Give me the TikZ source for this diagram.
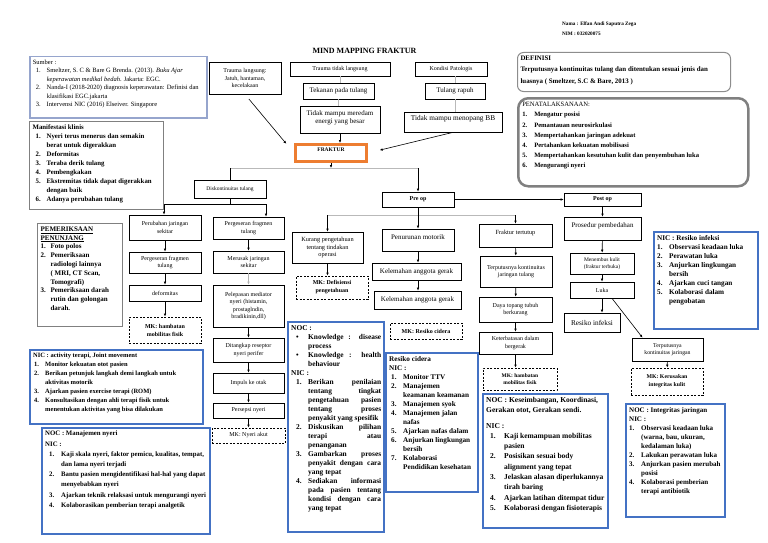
\documentclass[tikz,border=0pt]{standalone}
\usepackage{fontspec}
\setmainfont{Liberation Serif}
\usetikzlibrary{arrows.meta,calc}
\definecolor{nicblue}{RGB}{68,114,196}
\definecolor{frorange}{RGB}{237,125,49}
\definecolor{srcblue}{RGB}{150,165,205}
\definecolor{boxgray}{RGB}{128,128,128}
\hyphenpenalty=10000
\exhyphenpenalty=10000
\newlength\nw \newlength\nin
\newcommand\nitem[2]{\par\noindent\hangindent=\nw\hangafter=1\makebox[\nw][l]{\hspace{\nin}#1}#2}
\tikzset{
  bx/.style={draw, line width=0.7pt, align=center, inner sep=1pt, font=\fontsize{6}{7.5}\selectfont},
  bxl/.style={bx, font=\fontsize{7}{8.5}\selectfont},
  mk/.style={draw, dash pattern=on 2pt off 1.5pt, line width=0.8pt, align=center, inner sep=1pt, font=\bfseries\fontsize{6}{8}\selectfont},
  blb/.style={draw=nicblue, line width=2.4pt, anchor=north west, inner sep=3pt, font=\bfseries\fontsize{6.5}{9}\selectfont},
  gyb/.style={draw=boxgray, line width=1.2pt, anchor=north west, inner sep=3pt},
  arr/.style={-{Latex[length=3pt,width=2.6pt]}, line width=0.6pt},
  ln/.style={line width=0.6pt},
  gl/.style={draw=gray!55, line width=0.9pt},
}
\begin{document}
\begin{tikzpicture}[x=1pt,y=-1pt]
\useasboundingbox (0,0) rectangle (768,543);
% header
\node[anchor=north west, align=left, inner sep=0pt, font=\bfseries\fontsize{5.2}{10}\selectfont] (nama) at (562,22) {Nama : Elfan Andi Saputra Zega\\NIM : 032020075};
\node[font=\bfseries\fontsize{8}{10}\selectfont, inner sep=0pt] (title) at (364.5,51) {MIND MAPPING FRAKTUR};
% Sumber
\node[draw=srcblue, line width=1.5pt, anchor=north west, inner sep=3pt, font=\fontsize{6.5}{8.5}\selectfont] (sumber) at (29,56)
 {\parbox[c][55pt][t]{171pt}{\raggedright\setlength\nw{14pt}\setlength\nin{3pt}%
 \noindent Sumber :
 \nitem{1.}{Smeltzer, S. C \& Bare G Brenda. (2013). \textit{Buku Ajar keperawatan medikal bedah}. Jakarta: EGC.}
 \nitem{2.}{Nanda-I (2018-2020) diagnosis keperawatan: Definisi dan klasifikasi EGC.jakarta}
 \nitem{3.}{Intervensi NIC (2016) Elseiver. Singapore}}};
% Manifestasi
\node[gyb, font=\bfseries\fontsize{6.8}{9}\selectfont] (manif) at (29,121)
 {\parbox[c][82pt][t]{128pt}{\raggedright\setlength\nw{14pt}\setlength\nin{3pt}%
 \noindent Manifestasi klinis
 \nitem{1.}{Nyeri terus menerus dan semakin berat untuk digerakkan}
 \nitem{2.}{Deformitas}
 \nitem{3.}{Teraba derik tulang}
 \nitem{4.}{Pembengkakan}
 \nitem{5.}{Ekstremitas tidak dapat digerakkan dengan baik}
 \nitem{6.}{Adanya perubahan tulang}}};
% Pemeriksaan
\node[gyb, font=\bfseries\fontsize{7}{8.8}\selectfont] (pem) at (37,223)
 {\parbox[c][97pt][t]{79pt}{\raggedright\setlength\nw{10pt}\setlength\nin{0pt}%
 \noindent\underline{PEMERIKSAAN}\\\underline{PENUNJANG}
 \nitem{1.}{Foto polos}
 \nitem{2.}{Pemeriksaan\newline radiologi lainnya\newline(~MRI, CT Scan,\newline Tomografi)}
 \nitem{3.}{Pemeriksaan darah\newline rutin dan golongan\newline darah.}}};
% DEFINISI
\node[draw=boxgray!90, line width=1pt, rounded corners=6pt, anchor=north west, inner sep=3pt, font=\bfseries\fontsize{6.9}{11.5}\selectfont] (defin) at (517,52)
 {\parbox[c][33pt][t]{207pt}{\raggedright DEFINISI\\Terputusnya kontinuitas tulang dan ditentukan sesuai jenis dan luasnya ( Smeltzer, S.C \& Bare, 2013 )}};
% PENATALAKSANAAN
\node[draw=boxgray, line width=2.5pt, rounded corners=10pt, anchor=north west, inner sep=4pt, font=\bfseries\fontsize{6.6}{10.2}\selectfont] (penata) at (517,97)
 {\parbox[c][80pt][t]{222pt}{\raggedright\setlength\nw{12pt}\setlength\nin{0pt}%
 \noindent{\mdseries PENATALAKSANAAN:}
 \nitem{1.}{Mengatur posisi}
 \nitem{2.}{Pemantauan neurosirkulasi}
 \nitem{3.}{Mempertahankan jaringan adekuat}
 \nitem{4.}{Pertahankan kekuatan mobilisasi}
 \nitem{5.}{Mempertahankan kesutuhan kulit dan penyembuhan luka}
 \nitem{6.}{Mengurangi nyeri}}};
% top flow
\node[bx, minimum width=72, minimum height=32] (tl) at (245,78) {Trauma langsung:\\Jatuh, hantaman,\\kecelakaan};
\node[bx, minimum width=100, minimum height=14] (tdl) at (340,69) {Trauma tidak langsung};
\node[bxl, minimum width=71, minimum height=16] (tek) at (338.5,91) {Tekanan pada tulang};
\node[bxl, minimum width=80, minimum height=27, text depth=5pt] (tmr) at (340,119.5) {Tidak mampu meredam\\energi yang besar};
\node[bx, minimum width=72, minimum height=14] (kp) at (451,69) {Kondisi Patologis};
\node[bxl, minimum width=60, minimum height=16] (tr) at (455,91) {Tulang rapuh};
\node[bxl, minimum width=98, minimum height=20, font=\fontsize{7.3}{8.5}\selectfont, text depth=8pt] (tmb) at (453,122) {Tidak mampu menopang BB};
\node[draw=frorange, line width=3pt, minimum width=71, minimum height=17, inner sep=1pt, font=\bfseries\fontsize{5.5}{7}\selectfont, text depth=6pt] (frak) at (331,153) {FRAKTUR};
\draw[gl] (tdl.south) -- (tdl.south |- tek.north);
\draw[gl] (tek.south) -- (tek.south |- tmr.north);
\draw[arr] (tmr.south) -- (tmr.south |- frak.north);
\draw[gl] (tr.north |- kp.south) -- (tr.north);
\draw[gl] (tr.south) -- (tr.south |- tmb.north);
\draw[arr, shorten <=6pt, shorten >=12pt] (tl.south) -- (frak.west);
\draw[arr, shorten >=12pt] (tmb.south) -- (frak.east);
% split
\coordinate (j1) at (230,168);
\coordinate (j2) at (418,168);
\node[bx, minimum width=72, minimum height=18, font=\fontsize{5.5}{7}\selectfont] (disk) at (230,189) {Diskontinuitas tulang};
\node[bx, minimum width=72, minimum height=15, font=\bfseries\fontsize{6}{7}\selectfont] (preop) at (418,199.5) {Pre op};
\draw[arr] (frak.south) -- (frak.south |- j1);
\draw[gl] (j1) -- (j2);
\draw[ln] (j1) -- (disk.north);
\draw[arr] (j2) -- (preop.north);
% left columns
\coordinate (j3) at (164,204);
\coordinate (j4) at (266,204);
\node[bx, minimum width=72, minimum height=25] (pjs) at (165,227.5) {Perubahan jaringan\\sekitar};
\node[bx, minimum width=72, minimum height=21] (pfg1) at (165,262.5) {Pergeseran fragmen\\tulang};
\node[bx, minimum width=72, minimum height=16] (def) at (165,293) {deformitas};
\node[mk, minimum width=72, minimum height=26] (mk1) at (165,330) {MK: hambatan\\mobilitas fisik};
\draw[ln] (disk.south) -- (disk.south |- j3);
\draw[ln] (j3) -- (j4);
\draw[arr] (j3) -- (j3 |- pjs.north);
\draw[arr] (pjs) -- (pfg1);
\draw[arr] (pfg1) -- (def);
\draw[arr] (def) -- (mk1);
\node[bx, minimum width=71, minimum height=22] (pfg2) at (248.5,228) {Pergeseran fragmen\\tulang};
\node[bx, minimum width=71, minimum height=22] (mrj) at (248.5,262) {Merusak jaringan\\sekitar};
\node[bx, minimum width=71, minimum height=42] (pel) at (248.5,306) {Pelepasan mediator\\nyeri (histamin,\\prostaglndin,\\bradikinin,dll)};
\node[bx, minimum width=71, minimum height=24] (dit) at (248.5,350) {Ditangkap reseptor\\nyeri perifer};
\node[bx, minimum width=71, minimum height=20] (imp) at (248.5,383) {Impuls ke otak};
\node[bx, minimum width=71, minimum height=15] (per) at (248.5,410.5) {Persepsi nyeri};
\node[mk, minimum width=73, minimum height=15, font=\fontsize{6}{7}\selectfont] (mk2) at (248.5,435.5) {MK: Nyeri akut};
\draw[arr] (j4) -- (j4 |- pfg2.north);
\draw[arr] (pfg2) -- (mrj);
\draw[arr, draw=gray!60] (mrj) -- (pel);
\draw[arr] (pel) -- (dit);
\draw[arr] (dit) -- (imp);
\draw[arr] (imp) -- (per);
\draw[arr] (per) -- (mk2);
% pre op branches
\coordinate (j5) at (327.5,215);
\coordinate (j6) at (515.5,215);
\node[bx, minimum width=71, minimum height=31, font=\fontsize{6.3}{7.8}\selectfont] (kur) at (327.5,247.5) {Kurang pengetahuan\\tentang tindakan\\operasi};
\node[mk, minimum width=72, minimum height=23] (mkdef) at (332,287.5) {MK: Defisiensi\\pengetahuan};
\node[bxl, minimum width=72, minimum height=22, text depth=6pt] (pm) at (418,240) {Penurunan motorik};
\node[bxl, minimum width=89, minimum height=17] (kel1) at (416.5,271.5) {Kelemahan anggota gerak};
\node[bxl, minimum width=87, minimum height=18] (kel2) at (417.5,300) {Kelemahan anggota gerak};
\node[mk, minimum width=72, minimum height=16] (mkrc) at (426,331) {MK: Resiko cidera};
\draw[ln] (preop.south) -- (preop.south |- j5);
\draw[gl] (j5) -- (j6);
\draw[arr] (j5) -- (kur.north);
\draw[arr] (preop.south |- j5) -- (pm.north);
\draw[arr] (kur) -- (mkdef.north -| kur.south);
\draw[arr] (pm) -- (pm.south |- kel1.north);
\draw[arr] (kel1.south -| pm.south) -- (pm.south |- kel2.north);
\node[bx, minimum width=73, minimum height=23, font=\fontsize{6.3}{7.5}\selectfont, text depth=6pt] (ft) at (515.5,235.5) {Fraktur tertutup};
\node[bx, minimum width=72, minimum height=31] (tkj) at (516,271.5) {Terputusnya kontinuitas\\jaringan tulang};
\node[bx, minimum width=73, minimum height=25] (dtt) at (515.5,309.5) {Daya topang tubuh\\berkurang};
\node[bx, minimum width=73, minimum height=22] (keb) at (515.5,343) {Keterbatasan dalam\\bergerak};
\node[mk, minimum width=74, minimum height=22, font=\bfseries\fontsize{5.5}{7.5}\selectfont] (mk3) at (520,379) {MK: hambatan\\mobilitas fisik};
\draw[arr] (j6) -- (ft.north);
\draw[arr] (ft) -- (tkj);
\draw[arr] (tkj) -- (dtt);
\draw[arr] (dtt) -- (keb);
\draw[arr] (keb.south) -- (keb.south |- mk3.north);
% post op
\node[bx, minimum width=77, minimum height=13, font=\bfseries\fontsize{6}{7}\selectfont] (postop) at (602.5,199.5) {Post op};
\node[bxl, minimum width=77, minimum height=23, text depth=6pt] (pros) at (602.5,228.5) {Prosedur pembedahan};
\node[bx, minimum width=64, minimum height=21, font=\fontsize{5.5}{7.5}\selectfont] (men) at (602,263.5) {Menembus kulit\\(fraktur terbuka)};
\node[bx, minimum width=64, minimum height=16] (luka) at (602,290) {Luka};
\node[bx, minimum width=56, minimum height=19, font=\fontsize{7.3}{8.5}\selectfont] (ri) at (592,322.5) {Resiko infeksi};
\node[bx, minimum width=71, minimum height=23, font=\fontsize{5.8}{7.5}\selectfont] (tkj2) at (667.5,349.5) {Terputusnya\\kontinuitas jaringan};
\node[mk, minimum width=72, minimum height=27, font=\bfseries\fontsize{5.8}{8}\selectfont] (mkk) at (667,381.5) {MK: Kerusakan\\integritas kulit};
\draw[arr] (preop.east) -- (postop.west);
\draw[arr] (postop) -- (pros);
\draw[arr] (pros) -- (men);
\draw[arr] (men) -- (luka);
\draw[arr] (luka.south) -- (luka.south |- ri.north);
\draw[arr] ([xshift=10pt]luka.south) -- ([xshift=-25pt]tkj2.north);
\draw[arr] (tkj2) -- (mkk);
% NIC / NOC boxes
\node[blb, font=\bfseries\fontsize{7.2}{9}\selectfont] (nicinf) at (653,231)
 {\parbox[c][91pt][t]{98pt}{\raggedright\setlength\nw{12pt}\setlength\nin{0pt}%
 \noindent NIC : Resiko infeksi
 \nitem{1.}{Observasi keadaan luka}
 \nitem{2.}{Perawatan luka}
 \nitem{3.}{Anjurkan lingkungan bersih}
 \nitem{4.}{Ajarkan cuci tangan}
 \nitem{5.}{Kolaborasi dalam pengobatan}}};
\node[blb] (nicact) at (29,349)
 {\parbox[c][68pt][t]{167pt}{\raggedright\setlength\nw{12pt}\setlength\nin{1pt}%
 \noindent NIC : activity terapi, Joint movement
 \nitem{1.}{Monitor kekuatan otot pasien}
 \nitem{2.}{Berikan petunjuk langkah demi langkah untuk aktivitas motorik}
 \nitem{3.}{Ajarkan pasien exercise terapi (ROM)}
 \nitem{4.}{Konsultasikan dengan ahli terapi fisik untuk menentukan aktivitas yang bisa dilakukan}}};
\node[blb, font=\bfseries\fontsize{6.8}{10.2}\selectfont] (nocnyeri) at (41,427)
 {\parbox[c][100pt][t]{162pt}{\raggedright\setlength\nw{16pt}\setlength\nin{4pt}%
 \noindent NOC : Manajemen nyeri\\NIC :
 \nitem{1.}{Kaji skala nyeri, faktor pemicu, kualitas, tempat, dan lama nyeri terjadi}
 \nitem{2.}{Bantu pasien mengidentifikasi hal-hal yang dapat menyebabkan nyeri}
 \nitem{3.}{Ajarkan teknik relaksasi untuk mengurangi nyeri}
 \nitem{4.}{Kolaborasikan pemberian terapi analgetik}}};
\node[blb, font=\bfseries\fontsize{7.4}{9}\selectfont] (nocknow) at (287,321)
 {\parbox[c][204pt][t]{90pt}{\setlength\nw{17pt}\setlength\nin{5pt}%
 \noindent NOC :
 \nitem{•}{Knowledge : disease process}
 \nitem{•}{Knowledge : health behaviour}
 \par\noindent NIC :
 \nitem{1.}{Berikan penilaian tentang tingkat pengetahuan pasien tentang proses penyakit yang spesifik}
 \nitem{2.}{Diskusikan pilihan terapi atau penanganan}
 \nitem{3.}{Gambarkan proses penyakit dengan cara yang tepat}
 \nitem{4.}{Sediakan informasi pada pasien tentang kondisi dengan cara yang tepat}}};
\node[blb, font=\bfseries\fontsize{7.2}{9}\selectfont] (nicrc) at (385,352)
 {\parbox[c][133pt][t]{86pt}{\raggedright\setlength\nw{14pt}\setlength\nin{2pt}%
 \noindent Resiko cidera\\NIC :
 \nitem{1.}{Monitor TTV}
 \nitem{2.}{Manajemen\newline keamanan keamanan}
 \nitem{3.}{Manajemen syok}
 \nitem{4.}{Manajemen jalan\newline nafas}
 \nitem{5.}{Ajarkan nafas dalam}
 \nitem{6.}{Anjurkan lingkungan\newline bersih}
 \nitem{7.}{Kolaborasi\newline Pendidikan kesehatan}}};
\node[blb, font=\bfseries\fontsize{7.5}{10.3}\selectfont] (nockes) at (482,393)
 {\parbox[c][128pt][t]{119pt}{\raggedright\setlength\nw{18pt}\setlength\nin{4pt}%
 \noindent NOC : Keseimbangan, Koordinasi, Gerakan otot, Gerakan sendi.\par\vspace{5pt}%
 \noindent NIC :
 \nitem{1.}{Kaji kemampuan mobilitas pasien}
 \nitem{2.}{Posisikan sesuai body alignment yang tepat}
 \nitem{3.}{Jelaskan alasan diperlukannya tirah baring}
 \nitem{4.}{Ajarkan latihan ditempat tidur}
 \nitem{5.}{Kolaborasi dengan fisioterapis}}};
\node[blb, font=\bfseries\fontsize{7}{9}\selectfont] (nocint) at (625,403)
 {\parbox[c][107pt][t]{93pt}{\raggedright\setlength\nw{12pt}\setlength\nin{0pt}%
 \noindent NOC : Integritas jaringan\\NIC :
 \nitem{1.}{Observasi keadaan luka (warna, bau, ukuran, kedalaman luka)}
 \nitem{2.}{Lakukan perawatan luka}
 \nitem{3.}{Anjurkan pasien merubah posisi}
 \nitem{4.}{Kolaborasi pemberian terapi antibiotik}}};
\end{tikzpicture}
\end{document}
